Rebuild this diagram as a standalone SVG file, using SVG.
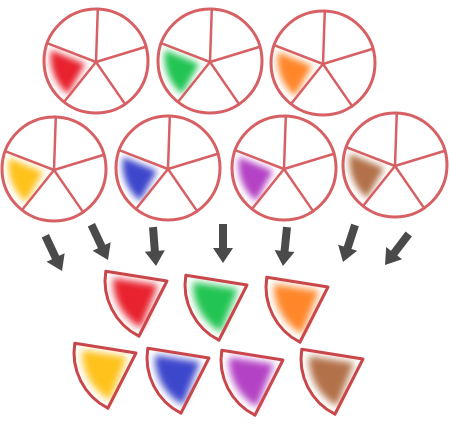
<svg xmlns="http://www.w3.org/2000/svg" xmlns:xlink="http://www.w3.org/1999/xlink" width="450" height="426" viewBox="0 0 450 426">
<style>
.pie{fill:none;stroke:#d66063;stroke-width:3;stroke-linecap:round}
.spk{fill:none;stroke:#d66063;stroke-width:2.5;stroke-linecap:round}
.wedge{fill:none;stroke:#c9474a;stroke-width:3;stroke-linejoin:round}
.arrow{fill:#4a4a4a}
</style>
<defs>
<filter id="blurS" x="-30%" y="-30%" width="160%" height="160%"><feGaussianBlur stdDeviation="3"/></filter>
<filter id="blurL" x="-30%" y="-30%" width="160%" height="160%"><feGaussianBlur stdDeviation="3.6"/></filter>
<g id="pieShape">
<circle class="pie" cx="0" cy="0" r="52"/>
<path class="spk" d="M0 1 L1.8 -52 M0 1 L50 -14.3 M0 1 L29.1 43.1 M0 1 L-32 41 M0 1 L-48.9 -17.8"/>
</g>
<path id="pieBlob" d="M-11 3 L-45 -11 A48 48 0 0 0 -28 33 Z" filter="url(#blurS)"/>
<path id="wedgeShape" class="wedge" d="M0 0 L-61.2 -9.7 A62 62 0 0 0 -28.1 55.2 Z"/>
<path id="wedgeBlob" d="M-9 4 L-54 -3 A54 54 0 0 0 -26 47 Z" filter="url(#blurL)"/>
<path id="arrowShape" class="arrow" d="M-4 -39 L4 -39 L4 -15 L10 -15 L0 0 L-10 -15 L-4 -15 Z"/>
</defs>

<g id="pie-red" transform="translate(96,61)">
<use xlink:href="#pieBlob" fill="#e8222d"/>
<use xlink:href="#pieShape"/>
</g>
<g id="pie-green" transform="translate(210,61)">
<use xlink:href="#pieBlob" fill="#22c552"/>
<use xlink:href="#pieShape"/>
</g>
<g id="pie-orange" transform="translate(323,63)">
<use xlink:href="#pieBlob" fill="#ff872a"/>
<use xlink:href="#pieShape"/>
</g>
<g id="pie-yellow" transform="translate(54,169)">
<use xlink:href="#pieBlob" fill="#ffc21c"/>
<use xlink:href="#pieShape"/>
</g>
<g id="pie-blue" transform="translate(168,168)">
<use xlink:href="#pieBlob" fill="#3c47cc"/>
<use xlink:href="#pieShape"/>
</g>
<g id="pie-purple" transform="translate(284,168)">
<use xlink:href="#pieBlob" fill="#b443c4"/>
<use xlink:href="#pieShape"/>
</g>
<g id="pie-brown" transform="translate(395,165)">
<use xlink:href="#pieBlob" fill="#b2714a"/>
<use xlink:href="#pieShape"/>
</g>

<g id="connectors">
<use xlink:href="#arrowShape" transform="translate(62,271) rotate(-25.3)"/>
<use xlink:href="#arrowShape" transform="translate(108,260) rotate(-25.2)"/>
<use xlink:href="#arrowShape" transform="translate(156,266) rotate(-4.4)"/>
<use xlink:href="#arrowShape" transform="translate(223,263)"/>
<use xlink:href="#arrowShape" transform="translate(283,266) rotate(5.9)"/>
<use xlink:href="#arrowShape" transform="translate(343,262) rotate(18)"/>
<use xlink:href="#arrowShape" transform="translate(385,265) rotate(37.5)"/>
</g>

<g id="slice-red" transform="translate(167,281)">
<use xlink:href="#wedgeBlob" fill="#e8222d"/>
<use xlink:href="#wedgeShape" style="stroke:#b83234"/>
</g>
<g id="slice-green" transform="translate(247,285)">
<use xlink:href="#wedgeBlob" fill="#22c552"/>
<use xlink:href="#wedgeShape"/>
</g>
<g id="slice-orange" transform="translate(328,287)">
<use xlink:href="#wedgeBlob" fill="#ff872a"/>
<use xlink:href="#wedgeShape"/>
</g>
<g id="slice-yellow" transform="translate(136,353)">
<use xlink:href="#wedgeBlob" fill="#ffc21c"/>
<use xlink:href="#wedgeShape"/>
</g>
<g id="slice-blue" transform="translate(209,358)">
<use xlink:href="#wedgeBlob" fill="#3c47cc"/>
<use xlink:href="#wedgeShape"/>
</g>
<g id="slice-purple" transform="translate(283,360)">
<use xlink:href="#wedgeBlob" fill="#b443c4"/>
<use xlink:href="#wedgeShape"/>
</g>
<g id="slice-brown" transform="translate(363,359)">
<use xlink:href="#wedgeBlob" fill="#b2714a"/>
<use xlink:href="#wedgeShape"/>
</g>
</svg>
